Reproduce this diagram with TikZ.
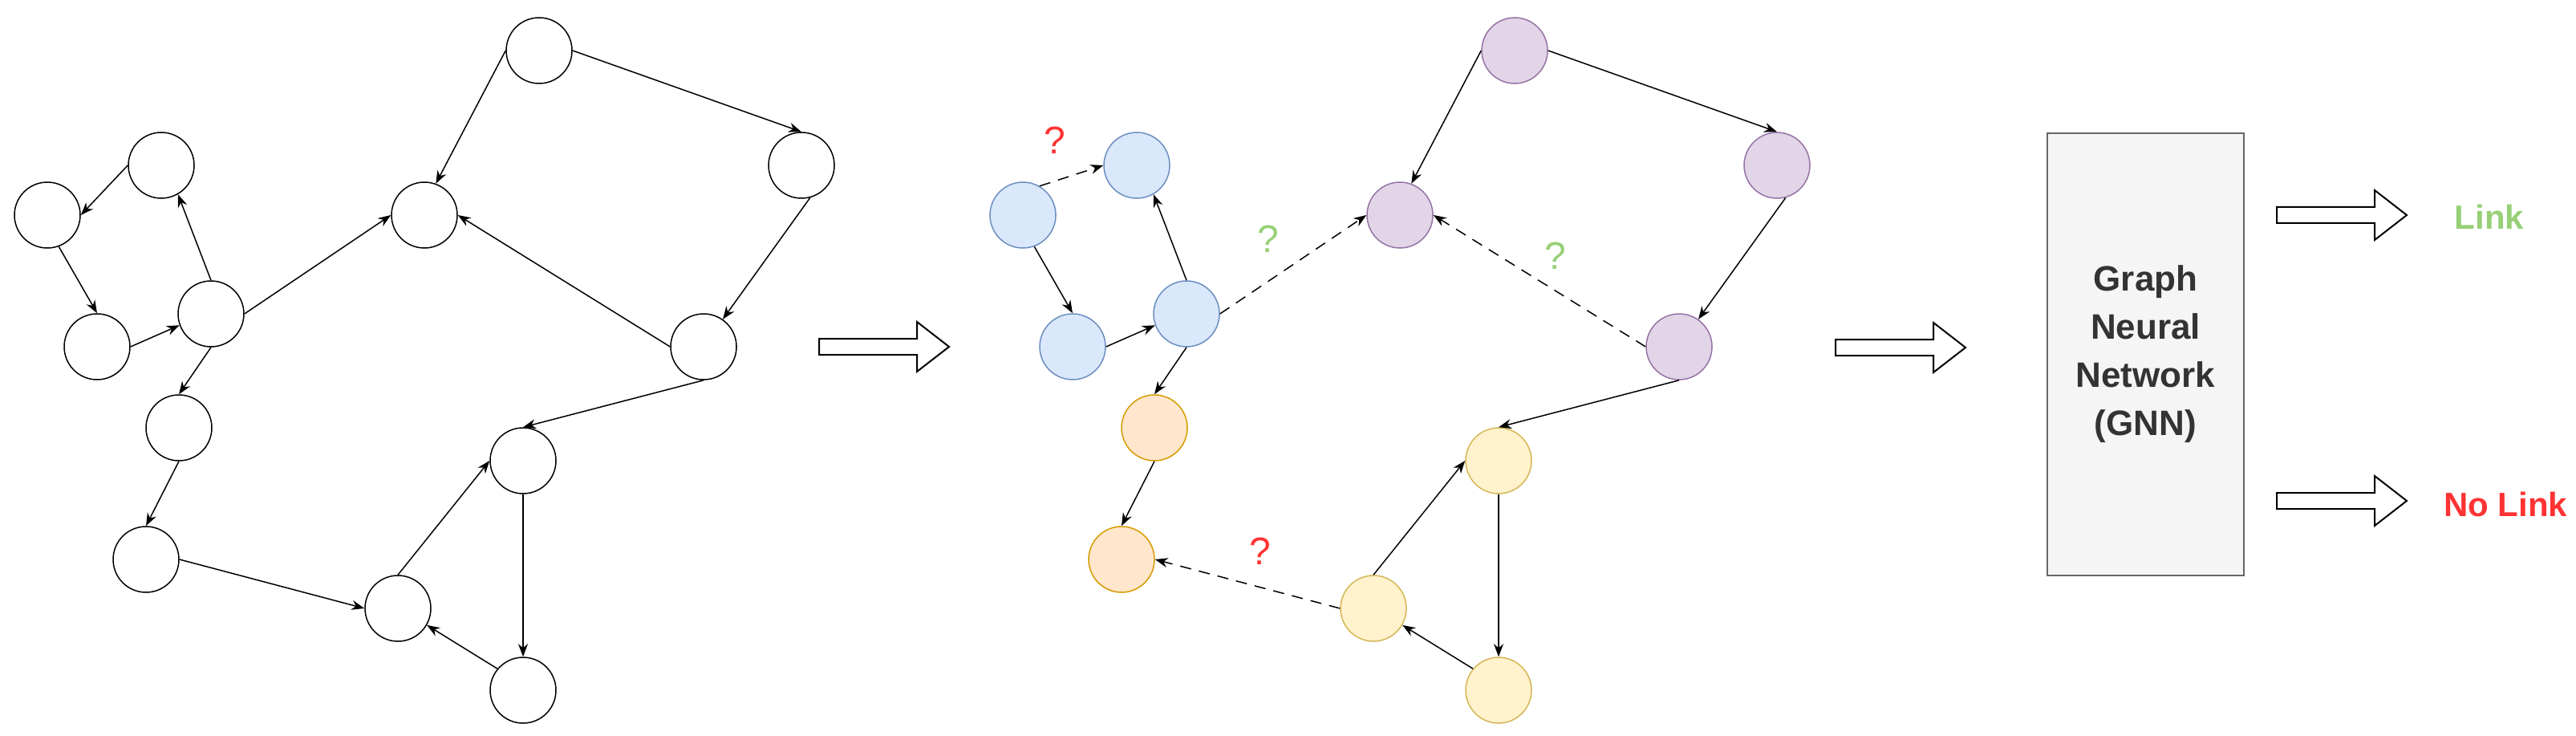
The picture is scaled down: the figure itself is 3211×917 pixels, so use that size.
\documentclass[tikz,border=0pt]{standalone}
\usepackage{fontspec}
\setmainfont{Liberation Sans}
\usetikzlibrary{arrows.meta}
\definecolor{qred}{HTML}{FF3333}
\definecolor{qgreen}{HTML}{97D077}
\definecolor{bfill}{HTML}{DAE8FC}\definecolor{bdraw}{HTML}{6C8EBF}
\definecolor{ofill}{HTML}{FFE6CC}\definecolor{odraw}{HTML}{D79B00}
\definecolor{pfill}{HTML}{E1D5E7}\definecolor{pdraw}{HTML}{9673A6}
\definecolor{yfill}{HTML}{FFF2CC}\definecolor{ydraw}{HTML}{D6B656}
\definecolor{gfill}{HTML}{F5F5F5}\definecolor{gdraw}{HTML}{666666}
\definecolor{gtext}{HTML}{333333}
\begin{document}
\begin{tikzpicture}[x=1pt,y=-1pt,
  vtx/.style={circle,draw,line width=1.5pt,minimum size=82pt,inner sep=0pt},
  bl/.style={vtx,fill=bfill,draw=bdraw},
  orn/.style={vtx,fill=ofill,draw=odraw},
  pur/.style={vtx,fill=pfill,draw=pdraw},
  yel/.style={vtx,fill=yfill,draw=ydraw},
  edge/.style={line width=1.5pt,-{Stealth[length=16pt,width=12pt]}},
  dedge/.style={edge,dash pattern=on 14pt off 10pt},
  qm/.style={font=\fontsize{48}{56}\selectfont},
  bigarrow/.pic={\draw[line width=2pt] (0,-10)--(122,-10)--(122,-31)--(162,0)--(122,31)--(122,10)--(0,10)--cycle;}
]
\useasboundingbox (0,0) rectangle (3211,917);
% left graph
\foreach \n/\x/\y in {A/672/63,B/999/206,C/529/268,D/201/206,E/59/268,F/121/432,G/263/391,H/877/432,I/223/533,J/652/574,K/182/697,L/496/758,M/652/860}
  \node[vtx] (L\n) at (\x,\y) {};
% middle graph
\foreach \n/\x/\y/\s in {A/672/63/pur,B/999/206/pur,C/529/268/pur,D/201/206/bl,E/59/268/bl,F/121/432/bl,G/263/391/bl,H/877/432/pur,I/223/533/orn,J/652/574/yel,K/182/697/orn,L/496/758/yel,M/652/860/yel}
  \node[\s] (M\n) at (\x+1216,\y) {};
% edges (anchors as in the reference)
\foreach \g in {L,M}{
  \draw[edge] (\g A.west) -- (\g C.70);
  \draw[edge] (\g A.east) -- (\g B.north);
  \draw[edge] (\g B.-75) -- (\g H.55);
  \draw[edge] (\g E.-70) -- (\g F.north);
  \draw[edge] (\g F.east) -- (\g G.200);
  \draw[edge] (\g G.north) -- (\g D.-60);
  \draw[edge] (\g G.south) -- (\g I.north);
  \draw[edge] (\g I.south) -- (\g K.north);
  \draw[edge] (\g L.north) -- (\g J.west);
  \draw[edge] (\g H.south) -- (\g J.north);
  \draw[edge] (\g J.south) -- (\g M.north);
  \draw[edge] (\g M.140) -- (\g L.-30);
}
\draw[edge] (LD.west) -- (LE.east);
\draw[edge] (LG.east) -- (LC.west);
\draw[edge] (LH.west) -- (LC.east);
\draw[edge] (LK.east) -- (LL.west);
\draw[dedge] (ME.60) -- (MD.west);
\draw[dedge] (MG.east) -- (MC.west);
\draw[dedge] (MH.west) -- (MC.east);
\draw[dedge] (ML.west) -- (MK.east);
\node[qm,text=qred] (q1) at (1315,175) {?};
\node[qm,text=qgreen] (q2) at (1581,298) {?};
\node[qm,text=qgreen] (q3) at (1939,319) {?};
\node[qm,text=qred] (q4) at (1571,687) {?};
% arrows and GNN
\pic at (1021,432) {bigarrow};
\pic at (2288,433) {bigarrow};
\node[draw=gdraw,fill=gfill,line width=1.5pt,minimum width=245pt,minimum height=551pt,inner sep=0pt,
  text=gtext,font=\bfseries\fontsize{44}{60}\selectfont,align=center] (gnn) at (2674.5,441.5)
  {Graph\\Neural\\Network\\(GNN)};
\pic at (2838,268) {bigarrow};
\pic at (2838,624) {bigarrow};
\node[text=qgreen,font=\bfseries\fontsize{42}{50}\selectfont] (link) at (3103,270) {Link};
\node[text=qred,font=\bfseries\fontsize{42}{50}\selectfont] (nolink) at (3123,628) {No Link};
\end{tikzpicture}
\end{document}
